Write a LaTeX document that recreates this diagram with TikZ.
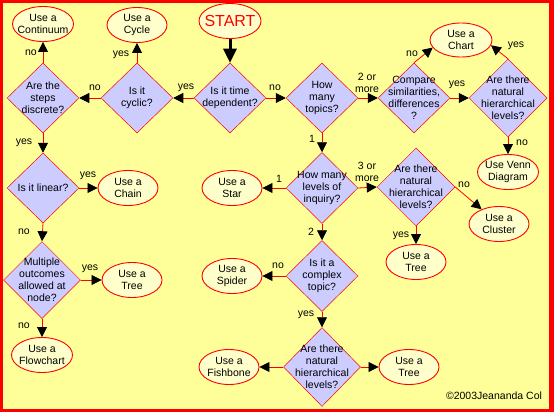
\documentclass[tikz,border=0pt]{standalone}
\usepackage{fontspec}
\setmainfont{Liberation Sans}
\usetikzlibrary{shapes.geometric,arrows.meta}
\definecolor{bgyellow}{HTML}{FFFF99}
\definecolor{elfill}{HTML}{FFFFCC}
\definecolor{diafill}{HTML}{CCCCFF}
\definecolor{framered}{HTML}{FF0000}
\begin{document}
\begin{tikzpicture}[x=1pt,y=-1pt,
  font=\fontsize{10.5}{12}\selectfont,
  ell/.style={ellipse,draw=framered,line width=0.9pt,fill=elfill,minimum width=60pt,minimum height=35pt,inner sep=0pt},
  dia/.style={diamond,draw=framered,line width=0.5pt,fill=diafill,minimum width=72pt,minimum height=70pt,inner sep=0pt},
  bigdia/.style={dia,minimum width=78pt,minimum height=78pt},
  txt/.style={align=center,inner sep=0pt},
  lbl/.style={inner sep=0pt,align=center},
  conn/.style={draw=framered,line width=0.8pt,-{Triangle[length=10pt,width=10pt,color=black,fill=black]}},
  startarrow/.style={draw=black,line width=3pt,-{Triangle[length=14pt,width=13pt,color=black,fill=black]}},
]
\useasboundingbox (0,0) rectangle (554,412);
\fill[framered] (0,0) rectangle (554,412);
\fill[bgyellow] (3,3) rectangle (549,409);

% ellipses
\node[ell,minimum width=62pt,label={[txt,text=framered,font=\fontsize{16}{17}\selectfont]center:{START}}] (start) at (230,21) {};
\node[ell,minimum width=61pt,label={[txt]center:{Use a\\Continuum}}] (continuum) at (43,24) {};
\node[ell,label={[txt]center:{Use a\\Cycle}}] (cycle) at (137,25) {};
\node[ell,minimum width=62pt,minimum height=34pt,label={[txt]center:{Use a\\Chart}}] (chart) at (461,40) {};
\node[ell,minimum width=61pt,label={[txt]center:{Use Venn\\Diagram}}] (venn) at (508,172) {};
\node[ell,label={[txt]center:{Use a\\Chain}}] (chain) at (128,188) {};
\node[ell,label={[txt]center:{Use a\\Star}}] (star) at (232,188) {};
\node[ell,label={[txt]center:{Use a\\Cluster}}] (cluster) at (499,224) {};
\node[ell,label={[txt]center:{Use a\\Tree}}] (treeM) at (416,262) {};
\node[ell,label={[txt]center:{Use a\\Tree}}] (treeL) at (132,280) {};
\node[ell,label={[txt]center:{Use a\\Spider}}] (spider) at (232,276) {};
\node[ell,minimum width=61pt,label={[txt]center:{Use a\\Flowchart}}] (flowchart) at (42,355) {};
\node[ell,label={[txt]center:{Use a\\Fishbone}}] (fishbone) at (229,367) {};
\node[ell,label={[txt]center:{Use a\\Tree}}] (treeB) at (409,367) {};

% diamonds
\node[dia,label={[txt]center:{Is it time\\dependent?}}] (time) at (230,98) {};
\node[dia,label={[txt]center:{Is it\\cyclic?}}] (cyclic) at (137,98) {};
\node[dia,label={[txt]center:{Are the\\steps\\discrete?}}] (discrete) at (43,98) {};
\node[dia,label={[txt]center:{How\\many\\topics?}}] (topics) at (322,98) {};
\node[dia,label={[txt]center:{Compare\\similarities,\\differences\\?}}] (compare) at (414,98) {};
\node[bigdia,label={[txt]center:{Are there\\natural\\hierarchical\\levels?}}] (natT) at (508,98) {};
\node[dia,label={[txt]center:{Is it linear?}}] (linear) at (43,188) {};
\node[dia,minimum height=71pt,label={[txt]center:{How many\\levels of\\inquiry?}}] (levels) at (322,188) {};
\node[bigdia,label={[txt]center:{Are there\\natural\\hierarchical\\levels?}}] (natM) at (416,187) {};
\node[dia,minimum width=77pt,minimum height=77pt,label={[txt]center:{Multiple\\outcomes\\allowed at\\node?}}] (multiple) at (42,280) {};
\node[dia,minimum height=71pt,label={[txt]center:{Is it a\\complex\\topic?}}] (complex) at (322,276) {};
\node[bigdia,minimum width=77pt,minimum height=79pt,label={[txt]center:{Are there\\natural\\hierarchical\\levels?}}] (natB) at (322,367) {};

% connectors
\draw[startarrow] (start.south) -- (time.north);
\draw[conn] (time.west) -- (cyclic.east);
\draw[conn] (cyclic.west) -- (discrete.east);
\draw[conn] (cyclic.north) -- (cycle.south);
\draw[conn] (discrete.north) -- (continuum.south);
\draw[conn] (discrete.south) -- (linear.north);
\draw[conn] (linear.east) -- (chain.west);
\draw[conn] (linear.south) -- (multiple.north);
\draw[conn] (multiple.east) -- (treeL.west);
\draw[conn] (multiple.south) -- (flowchart.north);
\draw[conn] (time.east) -- (topics.west);
\draw[conn] (topics.east) -- (compare.west);
\draw[conn] (compare.east) -- (natT.west);
\draw[conn] (compare.north) -- (chart.195);
\draw[conn] (natT.north) -- (chart.-10);
\draw[conn] (natT.south) -- (venn.north);
\draw[conn] (topics.south) -- (levels.north);
\draw[conn] (levels.west) -- (star.east);
\draw[conn] (levels.east) -- (natM.west);
\draw[conn] (natM.east) -- (cluster);
\draw[conn] (natM.south) -- (treeM.north);
\draw[conn] (levels.south) -- (complex.north);
\draw[conn] (complex.west) -- (spider.east);
\draw[conn] (complex.south) -- (natB.north);
\draw[conn] (natB.west) -- (fishbone.east);
\draw[conn] (natB.east) -- (treeB.west);

% connector labels
\node[lbl] (l1) at (31,53) {no};
\node[lbl] (l2) at (121,55) {yes};
\node[lbl] (l3) at (95,88) {no};
\node[lbl] (l4) at (186,88) {yes};
\node[lbl] (l5) at (275,88) {no};
\node[lbl] (l6) at (367,83) {2 or\\more};
\node[lbl] (l7) at (457,85) {yes};
\node[lbl] (l8) at (412,54) {no};
\node[lbl] (l9) at (516,46) {yes};
\node[lbl] (l10) at (522,143) {no};
\node[lbl] (l11) at (312,139) {1};
\node[lbl] (l12) at (279,179) {1};
\node[lbl] (l13) at (367,172) {3 or\\more};
\node[lbl] (l14) at (464,185) {no};
\node[lbl] (l15) at (401,236) {yes};
\node[lbl] (l16) at (311,232) {2};
\node[lbl] (l17) at (278,266) {no};
\node[lbl] (l18) at (306,315) {yes};
\node[lbl] (l19) at (24,143) {yes};
\node[lbl] (l20) at (88,176) {yes};
\node[lbl] (l21) at (24,232) {no};
\node[lbl] (l22) at (90,269) {yes};
\node[lbl] (l23) at (24,326) {no};

\node[lbl] (copy) at (494,396) {©2003Jeananda Col};
\end{tikzpicture}
\end{document}
